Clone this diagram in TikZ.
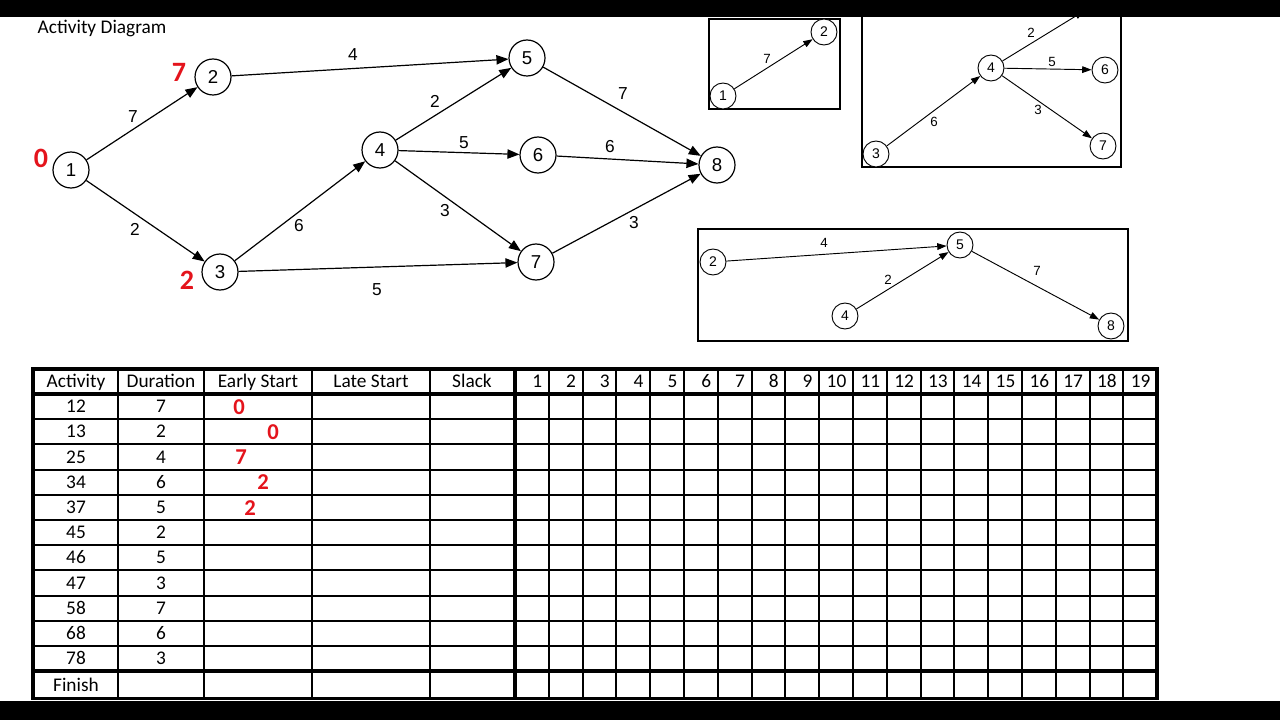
\documentclass[tikz,border=0pt]{standalone}
\usepackage{fontspec}
\setmainfont{Carlito}
\newfontfamily\arialfont{Liberation Sans}
\usetikzlibrary{arrows.meta}

\definecolor{penred}{RGB}{228,20,28}

\tikzset{
  evt/.style={circle, draw, line width=0.9pt, fill=white, minimum size=27pt, inner sep=0pt,
    font=\arialfont\fontsize{14}{14}\selectfont},
  sevt/.style={circle, draw, line width=0.7pt, fill=white, minimum size=19.5pt, inner sep=0pt,
    font=\arialfont\fontsize{10.5}{10.5}\selectfont},
  act/.style={line width=0.9pt, -{Triangle[length=9pt,width=7pt]}},
  sact/.style={line width=0.7pt, -{Triangle[length=7pt,width=5pt]}},
  wt/.style={font=\arialfont\fontsize{13}{13}\selectfont},
  swt/.style={font=\arialfont\fontsize{10}{10}\selectfont},
  pen/.style={text=penred, font=\bfseries\fontsize{21}{21}\selectfont},
  spen/.style={text=penred, font=\bfseries\fontsize{17}{17}\selectfont},
  cell/.style={font=\fontsize{14.5}{14.5}\selectfont, text height=9.5pt, text depth=0.5pt},
  frame/.style={line width=0.9pt},
  rule/.style={line width=1.6pt},
  heavy/.style={line width=2.6pt},
}

\begin{document}
\begin{tikzpicture}[x=0.75pt, y=-0.75pt]
  \useasboundingbox (0,0) rectangle (1280,720);

  \node[cell, anchor=west] (title) at (33,28) {Activity Diagram};

  % main network
  \node[evt] (n1) at (71,170) {1};
  \node[evt] (n2) at (213,77) {2};
  \node[evt] (n3) at (220,272) {3};
  \node[evt] (n4) at (380,150) {4};
  \node[evt] (n5) at (527,58) {5};
  \node[evt] (n6) at (538,155) {6};
  \node[evt] (n7) at (536,262) {7};
  \node[evt] (n8) at (717,165) {8};

  \draw[act] (n1) -- (n2);
  \draw[act] (n1) -- (n3);
  \draw[act] (n2) -- (n5);
  \draw[act] (n3) -- (n4);
  \draw[act] (n3) -- (n7);
  \draw[act] (n4) -- (n5);
  \draw[act] (n4) -- (n6);
  \draw[act] (n4) -- (n7);
  \draw[act] (n5) -- (n8);
  \draw[act] (n6) -- (n8);
  \draw[act] (n7) -- (n8);

  \node[wt] (w12) at (133,117) {7};
  \node[wt] (w13) at (135,229) {2};
  \node[wt] (w25) at (353,55) {4};
  \node[wt] (w34) at (299,226) {6};
  \node[wt] (w37) at (377,290) {5};
  \node[wt] (w45) at (435,101) {2};
  \node[wt] (w46) at (464,143) {5};
  \node[wt] (w47) at (445,211) {3};
  \node[wt] (w58) at (623,94) {7};
  \node[wt] (w68) at (610,147) {6};
  \node[wt] (w78) at (634,223) {3};

  \node[pen] (e1) at (41,158) {0};
  \node[pen] (e2) at (179,72) {7};
  \node[pen] (e3) at (187,280) {2};

  % box: 1 -> 2
  \draw[frame] (709,19) rectangle (840,109);
  \node[sevt] (a1) at (723,96) {1};
  \node[sevt] (a2) at (824,32) {2};
  \draw[sact] (a1) -- (a2);
  \node[swt] (aw) at (767,59) {7};

  % box: around 4
  \draw[frame] (862,8) rectangle (1121,167);
  \node[sevt] (b3) at (876,154) {3};
  \node[sevt] (b4) at (991,68) {4};
  \node[sevt] (b6) at (1105,70) {6};
  \node[sevt] (b7) at (1103,146) {7};
  \coordinate (b5) at (1084,11);
  \draw[sact] (b3) -- (b4);
  \draw[sact] (b4) -- (b5);
  \draw[sact] (b4) -- (b6);
  \draw[sact] (b4) -- (b7);
  \node[swt] (bw34) at (934,122) {6};
  \node[swt] (bw45) at (1031,33) {2};
  \node[swt] (bw46) at (1052,62) {5};
  \node[swt] (bw47) at (1038,110) {3};

  % box: into 5
  \draw[frame] (698,229) rectangle (1128,341);
  \node[sevt] (c2) at (713,262) {2};
  \node[sevt] (c4) at (845,316) {4};
  \node[sevt] (c5) at (960,245) {5};
  \node[sevt] (c8) at (1111,326) {8};
  \draw[sact] (c2) -- (c5);
  \draw[sact] (c4) -- (c5);
  \draw[sact] (c5) -- (c8);
  \node[swt] (cw25) at (824,243) {4};
  \node[swt] (cw45) at (888,280) {2};
  \node[swt] (cw58) at (1037,271) {7};

  % table
  \foreach \y in {419.2,444.4,...,650} \draw[rule] (33,\y) -- (1157,\y);
  \foreach \x in {118,204,312,430} \draw[rule] (\x,369) -- (\x,698.5);
  \foreach \k in {1,...,18} \draw[rule] ({515+33.8*\k},369) -- ({515+33.8*\k},698.5);
  \draw[heavy] (33,394) -- (1157,394);
  \draw[heavy] (33,671.2) -- (1157,671.2);
  \draw[heavy] (515,369) -- (515,698.5);
  \draw[heavy] (33,369) rectangle (1157,698.5);

  \node[cell] (hact) at (76,381.5) {Activity};
  \node[cell] (hdur) at (161,381.5) {Duration};
  \node[cell] (hes) at (258,381.5) {Early Start};
  \node[cell] (hls) at (371,381.5) {Late Start};
  \node[cell] (hsl) at (472,381.5) {Slack};
  \foreach \k in {1,...,19}
    \node[cell, anchor=east] (h\k) at ({515+33.8*\k-2},381.5) {\k};

  \foreach \a/\d [count=\i] in {12/7,13/2,25/4,34/6,37/5,45/2,46/5,47/3,58/7,68/6,78/3} {
    \node[cell] (act\i) at (76,{394+25.2*\i-12.6}) {\a};
    \node[cell] (dur\i) at (161,{394+25.2*\i-12.6}) {\d};
  }
  \node[cell] (fin) at (76,685) {Finish};

  \node[spen] (es1) at (239,407) {0};
  \node[spen] (es2) at (273,432) {0};
  \node[spen] (es3) at (241,457) {7};
  \node[spen] (es4) at (263,482) {2};
  \node[spen] (es5) at (250,508) {2};

  % video bars
  \fill (0,0) rectangle (1280,17);
  \fill (0,701) rectangle (1280,720);
\end{tikzpicture}
\end{document}
